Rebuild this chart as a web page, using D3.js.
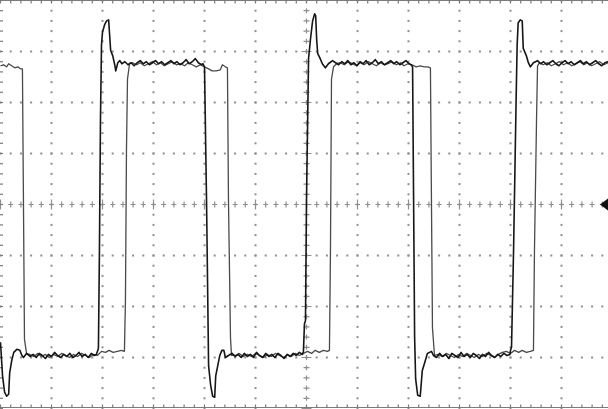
<!DOCTYPE html>
<html>
<head>
<meta charset="utf-8">
<script src="https://cdn.jsdelivr.net/npm/d3@7"></script>
<style>
  body { margin: 0; background: #fff; }
  svg { display: block; }
</style>
</head>
<body>
<div id="scope"></div>
<script>
// record: 50 samples per division, 8-bit codes at 25 per division
const xDivisions = [-6, -5, -4, -3, -2, -1, 0, 1, 2, 3, 4, 5, 6]
const yDivisions = [-4, -3, -2, -1, 0, 1, 2, 3, 4]
const samplesPerDiv = 50
const codesPerDiv = 25
const triggerLevel = 0

// channel 1 (with ringing on the edges)
const ch1 = [
  [-300, -67.5], [-298, -84], [-296, -92], [-294, -94], [-292, -93], [-291, -82.5], [-289, -76.5],
  [-287, -72.5], [-284, -71], [-281, -71.5], [-279, -74], [-277.5, -75], [-274.5, -73],
  [-271, -74.5], [-268, -73.5], [-265, -75], [-262, -73], [-259, -74], [-256, -75.5], [-253, -73.5],
  [-250, -74.5], [-247, -72.5], [-244, -74], [-241, -75], [-238, -73.5], [-235, -74.5], [-232, -73],
  [-229, -75], [-226, -74], [-223, -72.5], [-220, -74.5], [-217, -73.5], [-214, -75], [-211, -73],
  [-208, -74], [-206, -73.5], [-205, -72],
  [-204, -70.5], [-203, -22.5], [-202, 41], [-201, 78], [-200, 84.5], [-198, 88], [-196, 90],
  [-194, 90.5], [-193, 83], [-192, 75.5], [-190, 73], [-188, 68.5], [-187, 65.5], [-185, 69.5],
  [-183, 70.5], [-181, 69],
  [-178, 70], [-175, 68.5], [-172, 69.5], [-169, 68], [-166, 69.5], [-163, 70.5], [-160, 69],
  [-157, 70], [-154, 68.5], [-151, 69.5], [-148, 70.5], [-145, 69], [-142, 70], [-139, 68.5],
  [-136, 69.5], [-133, 70.5], [-130, 69], [-127, 70], [-124, 68.5], [-121, 69.5], [-118, 71],
  [-115, 69], [-112, 70], [-109, 71.5], [-106, 69.5], [-103, 68.5], [-101.5, 69],
  [-100, 67.5], [-98, 2], [-96, -79], [-94, -88.5], [-92, -94], [-90, -94.5], [-89, -84],
  [-87, -79], [-85, -74], [-83, -71.5], [-81, -71.5], [-79.5, -75], [-76.5, -74],
  [-73, -73], [-70, -74.5], [-67, -73.5], [-64, -75], [-61, -73], [-58, -74.5], [-55, -73.5],
  [-52, -75], [-49, -72.5], [-46, -74], [-43, -75], [-40, -73], [-37, -74.5], [-34, -73.5],
  [-31, -75], [-28, -73], [-25, -74], [-22, -75.5], [-19, -73.5], [-16, -74.5], [-13, -73],
  [-10, -74], [-7, -72.5], [-4, -73.5], [-3, -72],
  [-2, -58.5], [-1, -57], [0, 2], [2, 71.5], [4, 81.5], [6, 90], [8, 93.5], [9, 92.5],
  [10, 80.5], [11, 74], [13, 72], [15.5, 69], [18.5, 67], [21.5, 69], [25.5, 70.5], [28.5, 69.5],
  [31.5, 68.5], [34.5, 70], [37.5, 69], [40.5, 70.5], [43.5, 68.5], [46.5, 69.5], [49.5, 68],
  [52.5, 70], [55.5, 69], [58.5, 70.5], [61.5, 68.5], [64.5, 69.5], [67.5, 71], [70.5, 69],
  [73.5, 70], [76.5, 68.5], [79.5, 69.5], [82.5, 70.5], [85.5, 69], [88.5, 70], [91.5, 68.5],
  [94.5, 69.5], [97.5, 70.5], [100.5, 69], [102.5, 68.5],
  [104, 67.5], [105, 2], [106, -65], [107, -85.5], [109, -93.5], [111.5, -94], [113.5, -81.5],
  [116.5, -76.5], [118.5, -73], [122.5, -72], [124.5, -74],
  [127.5, -75], [130.5, -73], [133.5, -74.5], [136.5, -73.5], [139.5, -75.5], [142.5, -73],
  [145.5, -74], [148.5, -75], [151.5, -72.5], [154.5, -74.5], [157.5, -73.5], [160.5, -75],
  [163.5, -73], [166.5, -74], [169.5, -75.5], [172.5, -73.5], [175.5, -74.5], [178.5, -72.5],
  [181.5, -74], [184.5, -75], [187.5, -73.5], [190.5, -74.5], [193.5, -73], [196.5, -74],
  [199.5, -73.5], [200, -71.5],
  [201, -70], [203, -22.5], [205.5, 51], [206.5, 78], [207.5, 89], [209.5, 90.5], [211.5, 90],
  [212.5, 76.5], [215.5, 73], [217.5, 69.5], [219.5, 67.5], [222.5, 69.5], [226.5, 70.5],
  [229.5, 69], [232.5, 70], [235.5, 68.5], [238.5, 69.5], [241.5, 70.5], [244.5, 69], [247.5, 68],
  [250.5, 69.5], [253.5, 70.5], [256.5, 69], [259.5, 70], [262.5, 68.5], [265.5, 69.5],
  [268.5, 70.5], [271.5, 69], [274.5, 70], [277.5, 68.5], [280.5, 69.5], [283.5, 70.5],
  [286.5, 69], [289.5, 68], [292.5, 69.5], [295.5, 70], [298, 69]
]

// channel 2 (delayed, cleaner edges)
const ch2 = [
  [-300, 68], [-297, 68.5], [-294, 67.5], [-292, 69], [-289, 68], [-286, 67], [-283, 67.5],
  [-280.5, 66.5], [-278.5, 66.5],
  [-277.5, 2], [-276.5, -66], [-274.5, -73],
  [-271.5, -73.5], [-267.5, -74.5], [-263.5, -73], [-260, -74.5], [-256, -73.5], [-252, -75],
  [-248, -73.5], [-244, -74.5], [-240, -73], [-236, -74], [-232.5, -75], [-228.5, -73.5],
  [-224.5, -74.5], [-220.5, -73], [-216.5, -74], [-213, -75], [-209, -73.5], [-205, -74],
  [-201, -72], [-197, -72.5], [-193.5, -71.5], [-189.5, -72.5], [-185.5, -72], [-181.5, -71.5],
  [-178.5, -72],
  [-177.5, -47], [-176.5, 26.5], [-175.5, 61.5], [-173.5, 69],
  [-170.5, 69.5], [-166.5, 68.5], [-163, 69.5], [-159, 68], [-155, 69], [-151, 70], [-147, 68.5],
  [-143, 69.5], [-139.5, 68], [-135.5, 69], [-131.5, 70], [-127.5, 68.5], [-123.5, 69],
  [-119.5, 68], [-116, 69.5], [-112, 68.5], [-108, 67.5], [-104, 68.5], [-100, 67.5], [-96, 66.5],
  [-92.5, 65.5], [-88.5, 65.5], [-84.5, 66], [-82.5, 68.5], [-79.5, 67.5], [-77.5, 67],
  [-76.5, 2], [-74.5, -65.5], [-73.5, -74],
  [-69.5, -74], [-66, -73], [-62, -74.5], [-58, -73.5], [-54, -74.5], [-50, -73], [-46, -74],
  [-42, -75], [-38.5, -73.5], [-34.5, -74.5], [-30.5, -73], [-26.5, -74], [-22.5, -75],
  [-18.5, -73.5], [-15, -74.5], [-11, -73], [-7, -74], [-3, -73], [1, -72], [5, -73],
  [8.5, -71.5], [12.5, -72.5], [16.5, -71.5], [20.5, -72], [22.5, -71.5],
  [23.5, -22.5], [24.5, 61.5], [26.5, 67.5], [29.5, 69],
  [33, 69.5], [37, 68.5], [41, 70], [45, 69], [49, 68], [52.5, 69.5], [56.5, 68.5], [60.5, 70],
  [64.5, 69], [68.5, 68], [72.5, 69.5], [76, 68.5], [80, 69], [84, 70], [88, 68.5], [92, 69.5],
  [95.5, 68], [99.5, 69], [103.5, 68.5], [107.5, 67.5], [111.5, 68], [115.5, 67.5], [119, 67.5],
  [121.5, 67],
  [122.5, 2], [123.5, -60.5], [125.5, -74],
  [129, -73.5], [133, -74.5], [137, -73], [141, -74], [145, -75], [149, -73.5], [153, -74.5],
  [157, -73], [161, -74], [164.5, -75], [168.5, -73.5], [172.5, -74.5], [176.5, -73],
  [180.5, -74], [184.5, -75], [188, -73.5], [192, -72.5], [196, -72], [200, -73], [204, -71.5],
  [208, -72.5], [211.5, -71.5], [215.5, -72.5], [219.5, -72], [222.5, -71.5],
  [223.5, -22.5], [225.5, 41], [226.5, 68], [228.5, 69.5],
  [232, 68.5], [236, 69.5], [240, 68], [244, 69], [248, 70], [252, 68.5], [256, 69.5], [260, 68],
  [264, 69], [268, 70], [272, 68.5], [275.5, 69.5], [279.5, 68], [283.5, 69], [287.5, 70],
  [291.5, 68.5], [296, 69.5]
]

const w = 608
const h = 409
const divPx = 51
const gridColor = '#8f8f8f'

const xScale = d3
  .scaleLinear()
  .domain([d3.min(xDivisions) * samplesPerDiv, d3.max(xDivisions) * samplesPerDiv])
  .range([0.5, 0.5 + divPx * (xDivisions.length - 1)])

const yScale = d3
  .scaleLinear()
  .domain([d3.min(yDivisions) * codesPerDiv, d3.max(yDivisions) * codesPerDiv])
  .range([0.5 + divPx * (yDivisions.length - 1), 0.5])

const svg = d3
  .select('#scope')
  .append('svg')
  .attr('width', w)
  .attr('height', h)

svg.append('rect').attr('width', w).attr('height', h).attr('fill', '#fff')

const minorX = d3.range(xScale.domain()[0], xScale.domain()[1] + 1, samplesPerDiv / 5)
const minorY = d3.range(yScale.domain()[0], yScale.domain()[1] + 1, codesPerDiv / 5)

//dotted grid lines
const grid = svg.append('g').attr('fill', gridColor)
xDivisions
  .filter((d) => d !== 0 && Math.abs(d) !== 6)
  .forEach((d) => {
    grid
      .selectAll(null)
      .data(minorY)
      .join('rect')
      .attr('x', xScale(d * samplesPerDiv) - 1)
      .attr('y', (v) => yScale(v) - 1)
      .attr('width', 2)
      .attr('height', 2)
  })
yDivisions
  .filter((d) => d !== 0 && Math.abs(d) !== 4)
  .forEach((d) => {
    grid
      .selectAll(null)
      .data(minorX)
      .join('rect')
      .attr('x', (t) => xScale(t) - 1)
      .attr('y', yScale(d * codesPerDiv) - 1)
      .attr('width', 2)
      .attr('height', 2)
  })

//center axes with cross ticks
const axes = svg.append('g').attr('stroke', gridColor).attr('stroke-width', 1.2)
const x0 = xScale(0)
const y0 = yScale(0)
axes
  .selectAll(null)
  .data(minorX)
  .join('path')
  .attr('d', (t, i) => {
    const x = xScale(t)
    const s = i % 5 === 0 ? 5 : 3
    return `M${x - 2.5},${y0}H${x + 2.5}M${x},${y0 - s}V${y0 + s}`
  })
axes
  .selectAll(null)
  .data(minorY)
  .join('path')
  .attr('d', (v, i) => {
    const y = yScale(v)
    const s = i % 5 === 0 ? 5 : 3
    return `M${x0},${y - 2.5}V${y + 2.5}M${x0 - s},${y}H${x0 + s}`
  })

//frame with edge ticks
const frame = svg.append('g').attr('stroke', '#7a7a7a').attr('stroke-width', 1.2)
const yTop = yScale.range()[1]
const yBot = yScale.range()[0]
frame.append('line').attr('x1', 0).attr('x2', w).attr('y1', yTop).attr('y2', yTop)
frame.append('line').attr('x1', 0).attr('x2', w).attr('y1', yBot - 1).attr('y2', yBot - 1)
frame
  .selectAll(null)
  .data(minorX)
  .join('path')
  .attr('d', (t) => {
    const x = xScale(t)
    return `M${x},${yTop}V${yTop + 3}M${x},${yBot - 1}V${yBot - 4}`
  })
frame
  .selectAll(null)
  .data(minorY)
  .join('path')
  .attr('d', (v) => `M0,${yScale(v)}H3`)

//traces
const line = d3
  .line()
  .x((d) => xScale(d[0]))
  .y((d) => yScale(d[1]))

svg
  .append('path')
  .datum(ch2)
  .attr('d', line)
  .attr('fill', 'none')
  .attr('stroke', '#4a4a4a')
  .attr('stroke-width', 1.3)
  .attr('stroke-linejoin', 'round')

svg
  .append('path')
  .datum(ch1)
  .attr('d', line)
  .attr('fill', 'none')
  .attr('stroke', '#161616')
  .attr('stroke-width', 1.6)
  .attr('stroke-linejoin', 'round')

//trigger level marker
const ty = yScale(triggerLevel)
svg
  .append('path')
  .attr('d', `M${w},${ty - 6}L${w - 8},${ty}L${w},${ty + 6}Z`)
  .attr('fill', '#111')
</script>
</body>
</html>
